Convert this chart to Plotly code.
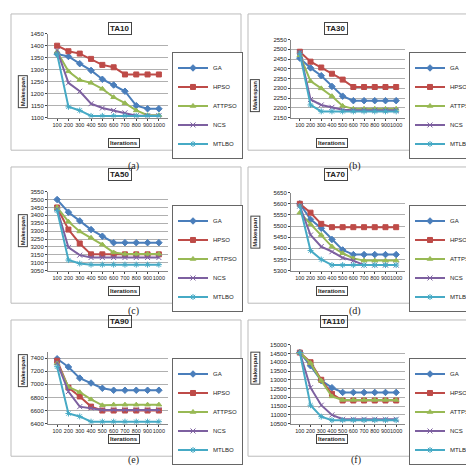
import plotly.graph_objects as go

W, H = 474, 469
iterations = [100, 200, 300, 400, 500, 600, 700, 800, 900, 1000]
x_labels = [str(v) for v in iterations]
series_names = ["GA", "HPSO", "ATTPSO", "NCS", "MTLBO"]
colors = ["#4a7ebb", "#be4b48", "#98b954", "#7d60a0", "#46aac5"]
symbols = ["diamond", "square", "triangle-up", "x-thin-open", "asterisk-open"]

titles = ["TA10", "TA30", "TA50", "TA70", "TA90", "TA110"]
captions = ["(a)", "(b)", "(c)", "(d)", "(e)", "(f)"]

ta10 = [
    [1365, 1355, 1325, 1297, 1260, 1236, 1210, 1150, 1137, 1137],
    [1400, 1377, 1367, 1345, 1320, 1310, 1280, 1280, 1280, 1280],
    [1375, 1293, 1257, 1245, 1220, 1185, 1160, 1130, 1110, 1110],
    [1380, 1245, 1210, 1158, 1140, 1130, 1120, 1108, 1108, 1108],
    [1365, 1145, 1130, 1107, 1107, 1107, 1107, 1107, 1107, 1107],
]
ta30 = [
    [2455, 2405, 2365, 2310, 2260, 2237, 2237, 2237, 2237, 2237],
    [2488, 2437, 2407, 2375, 2345, 2307, 2307, 2307, 2307, 2307],
    [2470, 2337, 2300, 2260, 2210, 2195, 2195, 2195, 2195, 2195],
    [2485, 2243, 2215, 2203, 2190, 2188, 2188, 2188, 2188, 2188],
    [2480, 2215, 2182, 2182, 2182, 2182, 2182, 2182, 2182, 2182],
]
ta50 = [
    [3500, 3420, 3365, 3310, 3268, 3227, 3227, 3227, 3227, 3227],
    [3450, 3310, 3222, 3153, 3153, 3153, 3153, 3153, 3153, 3153],
    [3450, 3360, 3298, 3258, 3215, 3165, 3155, 3155, 3155, 3155],
    [3440, 3197, 3148, 3133, 3133, 3133, 3133, 3133, 3133, 3133],
    [3430, 3117, 3095, 3088, 3088, 3088, 3088, 3088, 3088, 3088],
]
ta70 = [
    [5600, 5530, 5490, 5440, 5393, 5372, 5372, 5372, 5372, 5372],
    [5600, 5560, 5510, 5495, 5495, 5495, 5495, 5495, 5495, 5495],
    [5560, 5508, 5460, 5408, 5378, 5355, 5345, 5345, 5345, 5345],
    [5590, 5460, 5408, 5385, 5358, 5345, 5325, 5325, 5325, 5325],
    [5590, 5390, 5350, 5325, 5325, 5325, 5325, 5325, 5325, 5325],
]
ta90 = [
    [7390, 7265, 7095, 7020, 6940, 6910, 6910, 6910, 6910, 6910],
    [7360, 6950, 6815, 6660, 6600, 6600, 6600, 6600, 6600, 6600],
    [7320, 6960, 6880, 6770, 6680, 6690, 6690, 6690, 6690, 6690],
    [7330, 6890, 6660, 6640, 6610, 6610, 6610, 6610, 6610, 6610],
    [7270, 6555, 6510, 6430, 6430, 6430, 6430, 6430, 6430, 6430],
]
ta110 = [
    [14550, 13800, 12950, 12550, 12280, 12280, 12280, 12280, 12280, 12280],
    [14550, 14000, 13000, 12200, 11820, 11820, 11820, 11820, 11820, 11820],
    [14550, 13950, 12950, 12050, 11850, 11850, 11850, 11850, 11850, 11850],
    [14550, 12550, 11550, 11000, 10750, 10750, 10750, 10750, 10750, 10750],
    [14550, 11550, 10900, 10700, 10700, 10700, 10700, 10700, 10700, 10700],
]
datasets = [ta10, ta30, ta50, ta70, ta90, ta110]
y_ranges = [(1100, 1450, 50), (2150, 2550, 50), (3050, 3550, 50),
            (5300, 5650, 50), (6400, 7500, 200), (10500, 15000, 500)]

col_x = [0, 237]
row_y = [0, 155, 310]
plot_top = [23, 29, 28, 29, 35, 28]

fig = go.Figure()
shapes, annos = [], []
def px(x): return x / W
def py(y): return 1 - y / H

for i in range(6):
    r, c = divmod(i, 2)
    ox, oy = col_x[c], row_y[r]
    x0, x1 = ox + 40 + (6 if c else 0), ox + 160
    y0, y1 = oy + plot_top[i], oy + 108
    ax = "" if i == 0 else str(i + 1)
    leg = "legend" if i == 0 else f"legend{i+1}"
    for k in range(5):
        fig.add_trace(go.Scatter(
            x=x_labels, y=datasets[i][k], name=series_names[k], mode="lines+markers",
            line=dict(color=colors[k], width=2),
            marker=dict(symbol=symbols[k], size=5, color=colors[k],
                        line=dict(color=colors[k], width=1)),
            xaxis="x" + ax, yaxis="y" + ax, legend=leg))
    lo, hi, dt = y_ranges[i]
    fig.layout["xaxis" + ax] = dict(domain=[px(x0), px(x1)], anchor="y" + ax,
        type="category", showgrid=False, showline=True, linecolor="#888",
        ticks="outside", ticklen=2, tickangle=0,
        tickfont=dict(size=5.5, color="#222"))
    fig.layout["yaxis" + ax] = dict(domain=[py(y1), py(y0)], anchor="x" + ax,
        range=[lo, hi], dtick=dt, tickformat="d", showgrid=True,
        gridcolor="#b0b0b0", showline=True, linecolor="#888", ticks="outside",
        ticklen=2, tickfont=dict(size=6, color="#222"))
    fig.layout[leg] = dict(x=px(ox + 164), y=py(oy + 42),
        xanchor="left", yanchor="top", bordercolor="#666", borderwidth=1,
        bgcolor="white", font=dict(size=6, color="#222"), tracegroupgap=0,
        itemwidth=30)
    shapes.append(dict(type="rect", xref="paper", yref="paper",
        x0=px(ox + 3), x1=px(ox + 233), y0=py(oy + 3), y1=py(oy + 141),
        line=dict(color="#bbb", width=1)))
    annos += [
        dict(text=f"<b>{titles[i]}</b>", x=px((x0 + x1) / 2), y=py(oy + 11),
             xref="paper", yref="paper", showarrow=False, font=dict(size=8),
             bordercolor="#444", borderwidth=1, borderpad=1),
        dict(text="<b>Makespan</b>", x=px(ox + 10), y=py((y0 + y1) / 2),
             xref="paper", yref="paper", showarrow=False, textangle=-90,
             font=dict(size=6), bordercolor="#444", borderwidth=1, borderpad=1),
        dict(text="<b>Iterations</b>", x=px((x0 + x1) / 2), y=py(oy + 129),
             xref="paper", yref="paper", showarrow=False, font=dict(size=6),
             bordercolor="#444", borderwidth=1, borderpad=1),
        dict(text=captions[i], x=px(ox + 118), y=py(oy + 149 if r < 2 else oy + 153),
             xref="paper", yref="paper", showarrow=False,
             font=dict(size=10, family="Liberation Serif")),
    ]

fig.update_layout(width=W, height=H, margin=dict(l=0, r=0, t=0, b=0),
    paper_bgcolor="white", plot_bgcolor="white", shapes=shapes, annotations=annos,
    font=dict(family="Liberation Sans", color="#222"))
fig.write_html("out.html")
